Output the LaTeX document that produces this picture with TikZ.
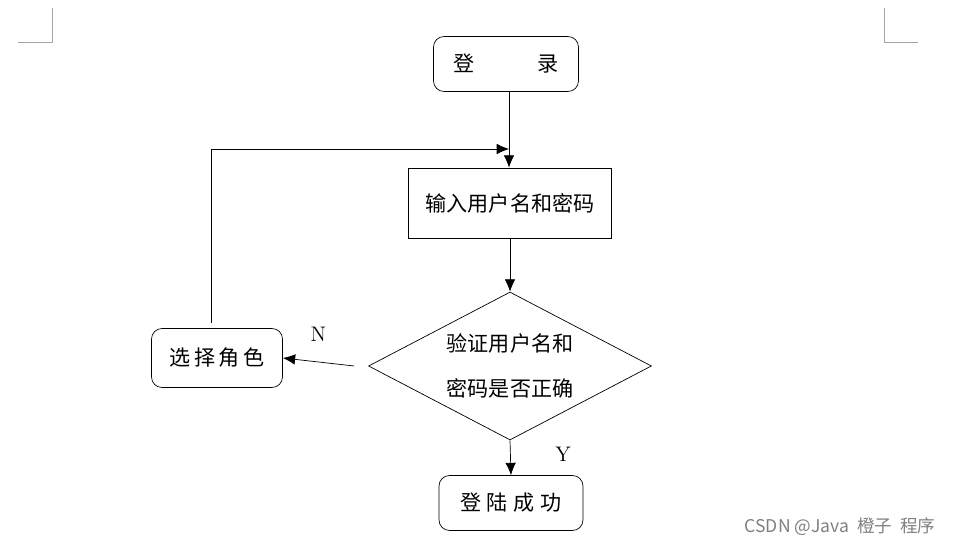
\documentclass[tikz,border=0pt]{standalone}
\usepackage{fontspec}
\newfontfamily\cjk{Noto Sans CJK SC}
\usetikzlibrary{shapes.geometric,arrows.meta}
\begin{document}
\begin{tikzpicture}[x=0.02cm,y=-0.02cm,
    box/.style={draw,rounded corners=6pt,minimum width=2.9cm,minimum height=1.1cm,font=\cjk\large},
    plain box/.style={draw,minimum width=4.06cm,minimum height=1.4cm,font=\cjk\large},
    test/.style={draw,diamond,aspect=1.9,minimum width=5.66cm,minimum height=2.96cm,inner sep=0pt,align=center,font=\cjk\large},
    arrow/.style={-{Latex[length=7pt,width=6pt]}},
    crop mark/.style={draw=gray!70,line width=0.4pt}]
    \useasboundingbox (0,0) rectangle (961,547);
    % corner marks
    \draw[crop mark] (18,42) -- (52,42) -- (52,8);
    \draw[crop mark] (918,42) -- (884,42) -- (884,8);

    \node[box] (login) at (506,64) {登\hspace{3em}录};
    \node[plain box] (input) at (510,203) {输入用户名和密码};
    \node[test] (check) at (510,366) {验证用户名和\\[12pt]密码是否正确};
    \node[box,minimum width=2.62cm,minimum height=1.18cm] (role) at (217,358) {选\,择\,角\,色};
    \node[box,minimum width=2.88cm] (done) at (511,503) {登\;陆\;成\;功};
    \coordinate (up) at (211,323);
    \coordinate (turn) at (211,149);
    \coordinate (join) at (509,149);

    \draw[arrow] (login.south -| join) -- (input.north -| join);
    \draw[arrow] (up) -- (turn) -- (join);
    \draw[arrow] (input) -- (check);
    \draw[arrow] ([xshift=-8pt]check.west) -- (role.east) node[pos=0.5,above=8pt,font=\large] {N};
    \draw[arrow] (check.south) -- (done.north) node[pos=0.4,right=22pt,font=\large] {Y};

    \node[text=gray,font=\cjk] (wm) at (840,527) {CSDN @Java\ \ 橙子\ \ 程序};
\end{tikzpicture}
\end{document}
